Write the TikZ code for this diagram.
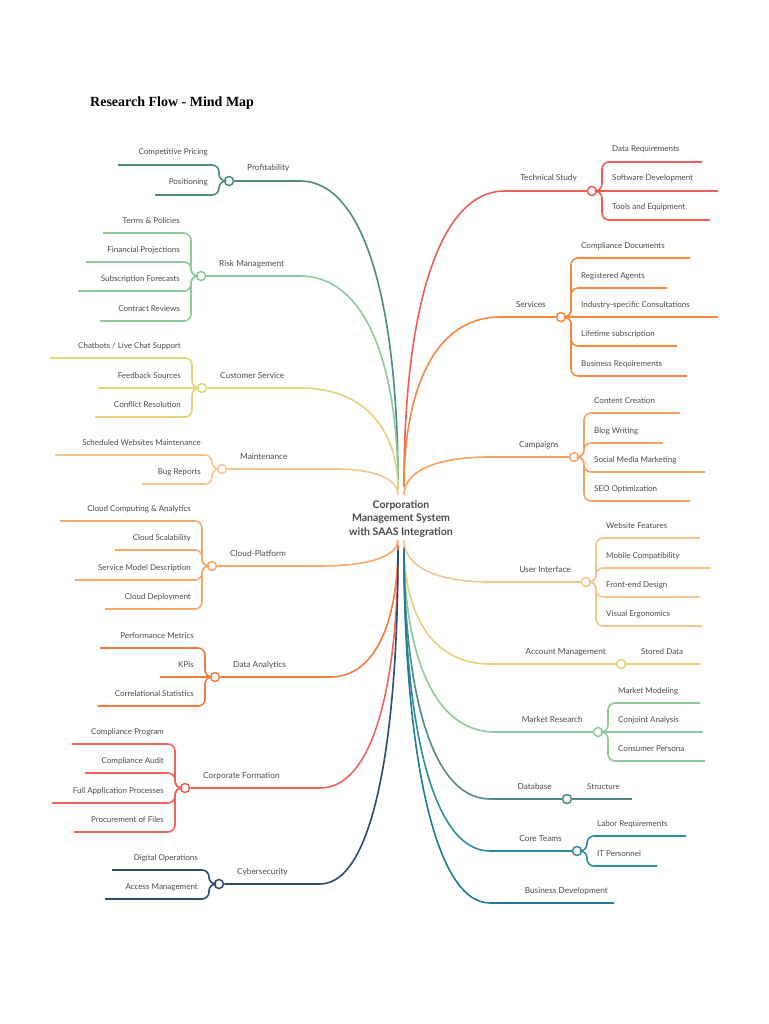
\documentclass[tikz,border=0pt]{standalone}
\usepackage{fontspec}
\setmainfont{Lato}
\newfontfamily\titlefont{Liberation Serif}
\definecolor{tealg}{HTML}{4A8C80}
\definecolor{lgreen}{HTML}{8DCB9A}
\definecolor{yell}{HTML}{E6D27A}
\definecolor{lorange}{HTML}{F6C490}
\definecolor{orangeb}{HTML}{F5A86A}
\definecolor{orangec}{HTML}{F47B3D}
\definecolor{coral}{HTML}{F2645A}
\definecolor{navy}{HTML}{2E4A6E}
\definecolor{redr}{HTML}{F25C54}
\definecolor{oranger}{HTML}{F9873E}
\definecolor{orangem}{HTML}{FBA063}
\definecolor{teald}{HTML}{4E8C86}
\definecolor{tealb}{HTML}{2E8CA0}
\definecolor{blueb}{HTML}{1E7C96}
\definecolor{txt}{HTML}{4A4A4A}
\newcounter{nd}
\tikzset{
  ln/.style={line width=1.6pt},
  jn/.style={circle,draw,fill=white,line width=1.5pt,inner sep=0pt,minimum size=9pt},
  lf/.style={font=\fontsize{8}{9}\selectfont,text=txt,inner sep=0pt},
  lb/.style={font=\fontsize{8.3}{9}\selectfont,text=txt,inner sep=0pt}
}
% left branch: color cx cy xe ey label
\newcommand\LB[6]{%
  \pgfmathsetmacro\ca{#4+0.7*(398-#4)}\pgfmathsetmacro\cb{#3+0.45*(#5-#3)}%
  \stepcounter{nd}%
  \node[jn,draw=#1] (j\arabic{nd}) at (#2,#3) {};
  \coordinate (e\arabic{nd}) at (398,#5);
  \draw[ln,#1] (j\arabic{nd}.east) -- (#4,#3) .. controls (\ca,#3) and (398,\cb) .. (e\arabic{nd});
  \node[lb,anchor=base west] (b\arabic{nd}) at (#2+18,#3-10) {#6};
  \edef\cur{j\arabic{nd}}\def\cx{#2}\def\cy{#3}\def\cc{#1}}
\newcommand\RB[6]{%
  \pgfmathsetmacro\ca{#4-0.7*(#4-404)}\pgfmathsetmacro\cb{#3+0.45*(#5-#3)}%
  \stepcounter{nd}%
  \node[jn,draw=#1] (j\arabic{nd}) at (#2,#3) {};
  \coordinate (e\arabic{nd}) at (404,#5);
  \draw[ln,#1] (j\arabic{nd}.west) -- (#4,#3) .. controls (\ca,#3) and (404,\cb) .. (e\arabic{nd});
  \node[lb,anchor=base east] (b\arabic{nd}) at (#2-15,#3-10) {#6};
  \edef\cur{j\arabic{nd}}\def\cx{#2}\def\cy{#3}\def\cc{#1}}
% leaf: ly xend text
\newcommand\LL[3]{%
  \stepcounter{nd}%
  \coordinate (l\arabic{nd}) at (#2,#1);
  \ifdim #1pt=\cy pt
    \draw[ln,\cc] (\cur.west) -- (l\arabic{nd});
  \else
    \draw[ln,\cc,rounded corners=7pt] (\cur.west) -- (\cx-10,\cy) -- (\cx-10,#1) -- (l\arabic{nd});
  \fi
  \node[lf,anchor=base east] (t\arabic{nd}) at (\cx-21,#1-10) {#3};}
\newcommand\RL[3]{%
  \stepcounter{nd}%
  \coordinate (l\arabic{nd}) at (#2,#1);
  \ifdim #1pt=\cy pt
    \draw[ln,\cc] (\cur.east) -- (l\arabic{nd});
  \else
    \draw[ln,\cc,rounded corners=7pt] (\cur.east) -- (\cx+10,\cy) -- (\cx+10,#1) -- (l\arabic{nd});
  \fi
  \node[lf,anchor=base west] (t\arabic{nd}) at (\cx+20,#1-10) {#3};}
\begin{document}
\begin{tikzpicture}[x=1pt,y=-1pt]
\useasboundingbox (0,0) rectangle (768,1024);
\node[anchor=base west,inner sep=0pt,font=\titlefont\bfseries\fontsize{14}{16}\selectfont] (title) at (90,107) {Research Flow - Mind Map};
% left
\LB{tealg}{229}{181}{300}{485}{Profitability}
\LL{165}{118}{Competitive Pricing}\LL{195}{155}{Positioning}
\LB{lgreen}{201}{276}{300}{487}{Risk Management}
\LL{233}{103}{Terms \& Policies}\LL{262}{86}{Financial Projections}\LL{291}{78}{Subscription Forecasts}\LL{321}{100}{Contract Reviews}
\LB{yell}{202}{388}{300}{490}{Customer Service}
\LL{358}{50}{Chatbots / Live Chat Support}\LL{388}{98}{Feedback Sources}\LL{417}{95}{Conflict Resolution}
\LB{lorange}{222}{469}{335}{495}{Maintenance}
\LL{455}{55}{Scheduled Websites Maintenance}\LL{484}{142}{Bug Reports}
\LB{orangeb}{212}{566}{320}{540}{Cloud-Platform}
\LL{521}{60}{Cloud Computing \& Analytics}\LL{550}{115}{Cloud Scalability}\LL{580}{75}{Service Model Description}\LL{609}{105}{Cloud Deployment}
\LB{orangec}{215}{677}{330}{545}{Data Analytics}
\LL{648}{100}{Performance Metrics}\LL{677}{160}{KPIs}\LL{706}{98}{Correlational Statistics}
\LB{coral}{185}{788}{320}{548}{Corporate Formation}
\LL{744}{72}{Compliance Program}\LL{773}{85}{Compliance Audit}\LL{803}{52}{Full Application Processes}\LL{832}{74}{Procurement of Files}
\LB{navy}{219}{884}{320}{550}{Cybersecurity}
\LL{870}{112}{Digital Operations}\LL{899}{105}{Access Management}
% right
\RB{redr}{592}{191}{505}{485}{Technical Study}
\RL{162}{702}{Data Requirements}\RL{191}{718}{Software Development}\RL{220}{710}{Tools and Equipment}
\RB{oranger}{561}{317}{500}{487}{Services}
\RL{258}{690}{Compliance Documents}\RL{288}{667}{Registered Agents}\RL{317}{718}{Industry-specific Consultations}\RL{346}{677}{Lifetime subscription}\RL{376}{687}{Business Requirements}
\RB{orangem}{574}{457}{490}{495}{Campaigns}
\RL{413}{680}{Content Creation}\RL{443}{663}{Blog Writing}\RL{472}{705}{Social Media Marketing}\RL{501}{690}{SEO Optimization}
\RB{lorange}{586}{582}{490}{540}{User Interface}
\RL{538}{700}{Website Features}\RL{568}{710}{Mobile Compatibility}\RL{597}{700}{Front-end Design}\RL{626}{702}{Visual Ergonomics}
\RB{yell}{621}{664}{490}{545}{Account Management}
\RL{664}{700}{Stored Data}
\RB{lgreen}{598}{732}{495}{547}{Market Research}
\RL{703}{700}{Market Modeling}\RL{732}{703}{Conjoint Analysis}\RL{761}{705}{Consumer Persona}
\RB{teald}{567}{799}{490}{548}{Database}
\RL{799}{632}{Structure}
\RB{tealb}{577}{851}{490}{550}{Core Teams}
\RL{836}{686}{Labor Requirements}\RL{866}{657}{IT Personnel}
% business development (no junction)
\coordinate (bdE) at (614,903);
\coordinate (bdC) at (404,552);
\draw[ln,blueb] (bdE) -- (490,903) .. controls (430,903) and (404,730) .. (bdC);
\node[lb,anchor=base east] (bd) at (608,893) {Business Development};
% centre
\node[fill=white,inner sep=3pt,align=center,text=txt,font=\bfseries\fontsize{10.5}{13.5}\selectfont] (ctr) at (401,519) {Corporation\\Management System\\with SAAS Integration};
\end{tikzpicture}
\end{document}
